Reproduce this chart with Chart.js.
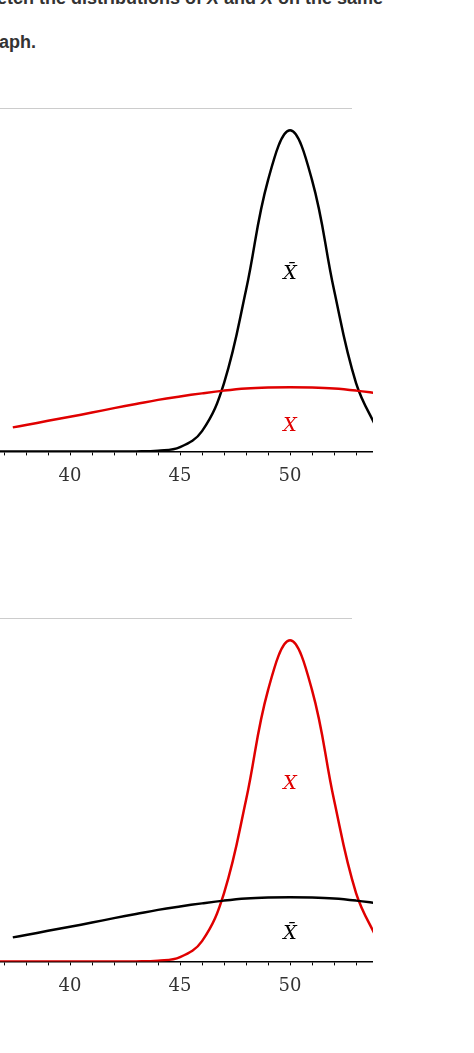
<!DOCTYPE html>
<html><head><meta charset="utf-8">
<script src="https://cdn.jsdelivr.net/npm/chart.js@4/dist/chart.umd.min.js"></script>
<style>
body{margin:0;width:474px;height:1053px;background:#fff;position:relative;overflow:hidden;font-family:"Liberation Sans",Arial,sans-serif}
.q{position:absolute;font-weight:bold;font-size:18px;color:#333;white-space:nowrap}
.hr{position:absolute;left:0;width:352px;border-top:1px solid #ccc}
.box{position:absolute;left:-6px;width:379px;height:389px}
.lab{position:absolute;font-family:"DejaVu Serif",serif;font-style:italic;font-size:19px;transform:translate(-50%,-50%)}
</style></head><body>
<div class="q" style="left:-25px;top:-12px">Sketch the distributions of <i>X̄</i> and <i>X</i> on the same</div>
<div class="q" style="left:-19px;top:32px">graph.</div>
<div class="hr" style="top:108px"></div>
<div class="box" style="top:108px"><canvas id="c1"></canvas></div>
<div class="lab" style="left:290px;top:272px;color:#000">X̄</div>
<div class="lab" style="left:290px;top:424px;color:#e00000">X</div>
<div class="hr" style="top:618px"></div>
<div class="box" style="top:618px"><canvas id="c2"></canvas></div>
<div class="lab" style="left:290px;top:782px;color:#e00000">X</div>
<div class="lab" style="left:290px;top:932px;color:#000">X̄</div>
<script>
const xs = [37.4,38,39,40,41,42,43,44,45,46,47,48,49,50,51,52,53,54];
const narrow = [0,0,0,0,0,0,0,0.002,0.0125,0.059,0.199,0.47,0.79,0.935,0.79,0.47,0.199,0.059];
const wide = [0.07,0.077,0.089,0.101,0.113,0.126,0.138,0.150,0.160,0.169,0.177,0.183,0.186,0.187,0.186,0.183,0.177,0.169];
const blackStart = 36.8;
const tickLabels = {40:'40',45:'45',50:'50'};
function pts(v){return xs.map((x,i)=>({x:x,y:v[i]}));}
function make(id, narrowColor, wideColor){
  const n = [{x:blackStart,y:0}].concat(pts(narrow));
  new Chart(document.getElementById(id),{type:'line',
    data:{datasets:[
      {data:pts(wide),borderColor:wideColor,borderWidth:2.5,pointRadius:0,tension:0.4},
      {data:n,borderColor:narrowColor,borderWidth:2.5,pointRadius:0,tension:0.4}]},
    options:{responsive:true,maintainAspectRatio:false,animation:false,
      plugins:{legend:{display:false},tooltip:{enabled:false}},
      layout:{padding:0},
      scales:{
        x:{type:'linear',min:36.8,max:53.77,
          grid:{drawOnChartArea:false,drawTicks:true,tickLength:4,color:'#000'},
          border:{color:'#000',width:1.5},
          afterBuildTicks:a=>{a.ticks=[];for(let v=37;v<=53;v++)a.ticks.push({value:v});},
          ticks:{autoSkip:false,maxRotation:0,color:'#333',font:{family:'DejaVu Serif',size:18},padding:10,
            callback:v=>tickLabels[v]||''}},
        y:{display:false,min:0,max:1}}}});
}
make('c1','#000','#e00000');
make('c2','#e00000','#000');
</script></body></html>
